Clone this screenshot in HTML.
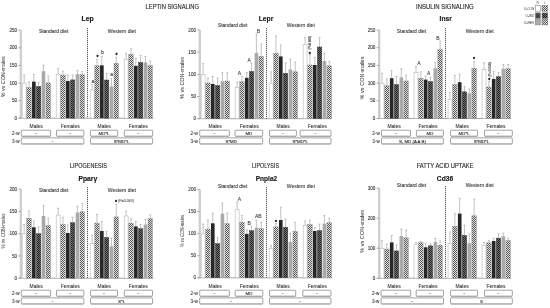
<!DOCTYPE html>
<html><head><meta charset="utf-8"><title>Figure</title>
<style>
html,body{margin:0;padding:0;background:#fff;}
body{width:550px;height:308px;overflow:hidden;}
svg{display:block;}
svg text{font-family:"Liberation Sans", Arial, sans-serif;}
</style></head>
<body>
<svg width="550" height="308" viewBox="0 0 550 308">
<defs>
<pattern id="hA" width="2" height="2" patternUnits="userSpaceOnUse">
<rect width="2" height="2" fill="#e4e4e4"/><rect width="1" height="1" fill="#545454"/><rect x="1" y="1" width="1" height="1" fill="#545454"/></pattern>
<pattern id="hD" width="2" height="2" patternUnits="userSpaceOnUse">
<rect width="2" height="2" fill="#727272"/><rect width="1" height="1" fill="#222222"/><rect x="1" y="1" width="1" height="1" fill="#222222"/></pattern>
<pattern id="hC" width="2" height="2" patternUnits="userSpaceOnUse">
<rect width="2" height="2" fill="#e0e0e0"/><rect width="1" height="1" fill="#585858"/><rect x="1" y="1" width="1" height="1" fill="#585858"/></pattern>
<filter id="soft" x="0" y="0" width="100%" height="100%"><feGaussianBlur stdDeviation="0.3"/></filter>
</defs>
<rect width="550" height="308" fill="#fff"/>
<g filter="url(#soft)">
<line x1="20.85" y1="30.2" x2="20.85" y2="118.2" stroke="#cfcfcf" stroke-width="2.4"/>
<line x1="18.85" y1="118.2" x2="153.25" y2="118.2" stroke="#9a9a9a" stroke-width="0.9"/>
<line x1="18.25" y1="118.2" x2="20.85" y2="118.2" stroke="#999" stroke-width="0.8"/>
<text x="17.05" y="119.8" font-size="4.6" text-anchor="end" fill="#2a2a2a" stroke="#2a2a2a" stroke-width="0.08">0</text>
<line x1="18.25" y1="100.6" x2="20.85" y2="100.6" stroke="#999" stroke-width="0.8"/>
<text x="17.05" y="102.2" font-size="4.6" text-anchor="end" fill="#2a2a2a" stroke="#2a2a2a" stroke-width="0.08">50</text>
<line x1="18.25" y1="83" x2="20.85" y2="83" stroke="#999" stroke-width="0.8"/>
<text x="17.05" y="84.6" font-size="4.6" text-anchor="end" fill="#2a2a2a" stroke="#2a2a2a" stroke-width="0.08">100</text>
<line x1="18.25" y1="65.4" x2="20.85" y2="65.4" stroke="#999" stroke-width="0.8"/>
<text x="17.05" y="67" font-size="4.6" text-anchor="end" fill="#2a2a2a" stroke="#2a2a2a" stroke-width="0.08">150</text>
<line x1="18.25" y1="47.8" x2="20.85" y2="47.8" stroke="#999" stroke-width="0.8"/>
<text x="17.05" y="49.4" font-size="4.6" text-anchor="end" fill="#2a2a2a" stroke="#2a2a2a" stroke-width="0.08">200</text>
<line x1="18.25" y1="30.2" x2="20.85" y2="30.2" stroke="#999" stroke-width="0.8"/>
<text x="17.05" y="31.8" font-size="4.6" text-anchor="end" fill="#2a2a2a" stroke="#2a2a2a" stroke-width="0.08">250</text>
<text x="0" y="0" font-size="4.6" text-anchor="middle" fill="#3a3a3a" stroke="#3a3a3a" stroke-width="0.02" textLength="41" lengthAdjust="spacingAndGlyphs" transform="translate(5.3,76.8) rotate(-90)">% vs CON-males</text>
<line x1="87.5" y1="28" x2="87.5" y2="118.2" stroke="#d4d4d4" stroke-width="0.8"/>
<line x1="87.5" y1="28" x2="87.5" y2="118.2" stroke="#5a5a5a" stroke-width="1" stroke-dasharray="1,1"/>
<text x="87.7" y="20.9" font-size="7.1" text-anchor="middle" font-weight="bold" fill="#1a1a1a" stroke="#1a1a1a" stroke-width="0.15" textLength="12.2" lengthAdjust="spacingAndGlyphs">Lep</text>
<text x="53.65" y="32.9" font-size="4.95" text-anchor="middle" fill="#333" stroke="#333" stroke-width="0.08">Standard diet</text>
<text x="121.85" y="32.9" font-size="5" text-anchor="middle" fill="#333" stroke="#333" stroke-width="0.08">Western diet</text>
<line x1="24.16" y1="75.1" x2="24.16" y2="82.9" stroke="#a8a8a8" stroke-width="0.7"/>
<line x1="23.16" y1="75.1" x2="25.16" y2="75.1" stroke="#a8a8a8" stroke-width="0.7"/>
<rect x="22.2" y="83.1" width="3.92" height="35.1" fill="#fff" stroke="#b5b5b5" stroke-width="0.6"/>
<line x1="28.98" y1="82" x2="28.98" y2="87.5" stroke="#a8a8a8" stroke-width="0.7"/>
<line x1="27.98" y1="82" x2="29.98" y2="82" stroke="#a8a8a8" stroke-width="0.7"/>
<rect x="26.72" y="87.5" width="4.52" height="30.7" fill="url(#hA)" stroke="#8a8a8a" stroke-width="0.4"/>
<line x1="33.8" y1="74.5" x2="33.8" y2="81.6" stroke="#a8a8a8" stroke-width="0.7"/>
<line x1="32.8" y1="74.5" x2="34.8" y2="74.5" stroke="#a8a8a8" stroke-width="0.7"/>
<rect x="32.04" y="81.6" width="3.62" height="36.6" fill="#262626"/>
<line x1="38.62" y1="82.3" x2="38.62" y2="86.4" stroke="#a8a8a8" stroke-width="0.7"/>
<line x1="37.62" y1="82.3" x2="39.62" y2="82.3" stroke="#a8a8a8" stroke-width="0.7"/>
<rect x="36.36" y="86.4" width="4.52" height="31.8" fill="url(#hD)" stroke="#3a3a3a" stroke-width="0.4"/>
<line x1="43.44" y1="65.1" x2="43.44" y2="71.2" stroke="#a8a8a8" stroke-width="0.7"/>
<line x1="42.44" y1="65.1" x2="44.44" y2="65.1" stroke="#a8a8a8" stroke-width="0.7"/>
<rect x="41.68" y="71.2" width="3.62" height="47" fill="#a9a9a9"/>
<line x1="48.26" y1="76" x2="48.26" y2="82.9" stroke="#a8a8a8" stroke-width="0.7"/>
<line x1="47.26" y1="76" x2="49.26" y2="76" stroke="#a8a8a8" stroke-width="0.7"/>
<rect x="46" y="82.9" width="4.52" height="35.3" fill="url(#hC)" stroke="#8a8a8a" stroke-width="0.4"/>
<line x1="58.16" y1="68.6" x2="58.16" y2="74.2" stroke="#a8a8a8" stroke-width="0.7"/>
<line x1="57.16" y1="68.6" x2="59.16" y2="68.6" stroke="#a8a8a8" stroke-width="0.7"/>
<rect x="56.2" y="74.4" width="3.92" height="43.8" fill="#fff" stroke="#b5b5b5" stroke-width="0.6"/>
<line x1="62.98" y1="71.2" x2="62.98" y2="75.1" stroke="#a8a8a8" stroke-width="0.7"/>
<line x1="61.98" y1="71.2" x2="63.98" y2="71.2" stroke="#a8a8a8" stroke-width="0.7"/>
<rect x="60.72" y="75.1" width="4.52" height="43.1" fill="url(#hA)" stroke="#8a8a8a" stroke-width="0.4"/>
<line x1="67.8" y1="75.1" x2="67.8" y2="81" stroke="#a8a8a8" stroke-width="0.7"/>
<line x1="66.8" y1="75.1" x2="68.8" y2="75.1" stroke="#a8a8a8" stroke-width="0.7"/>
<rect x="66.04" y="81" width="3.62" height="37.2" fill="#262626"/>
<line x1="72.62" y1="75.1" x2="72.62" y2="79.9" stroke="#a8a8a8" stroke-width="0.7"/>
<line x1="71.62" y1="75.1" x2="73.62" y2="75.1" stroke="#a8a8a8" stroke-width="0.7"/>
<rect x="70.36" y="79.9" width="4.52" height="38.3" fill="url(#hD)" stroke="#3a3a3a" stroke-width="0.4"/>
<line x1="77.44" y1="70.6" x2="77.44" y2="74.2" stroke="#a8a8a8" stroke-width="0.7"/>
<line x1="76.44" y1="70.6" x2="78.44" y2="70.6" stroke="#a8a8a8" stroke-width="0.7"/>
<rect x="75.68" y="74.2" width="3.62" height="44" fill="#a9a9a9"/>
<line x1="82.26" y1="71.6" x2="82.26" y2="74.7" stroke="#a8a8a8" stroke-width="0.7"/>
<line x1="81.26" y1="71.6" x2="83.26" y2="71.6" stroke="#a8a8a8" stroke-width="0.7"/>
<rect x="80" y="74.7" width="4.52" height="43.5" fill="url(#hC)" stroke="#8a8a8a" stroke-width="0.4"/>
<line x1="92.16" y1="84.8" x2="92.16" y2="89.7" stroke="#a8a8a8" stroke-width="0.7"/>
<line x1="91.16" y1="84.8" x2="93.16" y2="84.8" stroke="#a8a8a8" stroke-width="0.7"/>
<rect x="90.2" y="89.9" width="3.92" height="28.3" fill="#fff" stroke="#b5b5b5" stroke-width="0.6"/>
<line x1="96.98" y1="59.6" x2="96.98" y2="65.8" stroke="#a8a8a8" stroke-width="0.7"/>
<line x1="95.98" y1="59.6" x2="97.98" y2="59.6" stroke="#a8a8a8" stroke-width="0.7"/>
<rect x="94.72" y="65.8" width="4.52" height="52.4" fill="url(#hA)" stroke="#8a8a8a" stroke-width="0.4"/>
<line x1="101.8" y1="56.7" x2="101.8" y2="65.3" stroke="#a8a8a8" stroke-width="0.7"/>
<line x1="100.8" y1="56.7" x2="102.8" y2="56.7" stroke="#a8a8a8" stroke-width="0.7"/>
<rect x="100.04" y="65.3" width="3.62" height="52.9" fill="#262626"/>
<line x1="106.62" y1="73.5" x2="106.62" y2="80" stroke="#a8a8a8" stroke-width="0.7"/>
<line x1="105.62" y1="73.5" x2="107.62" y2="73.5" stroke="#a8a8a8" stroke-width="0.7"/>
<rect x="104.36" y="80" width="4.52" height="38.2" fill="url(#hD)" stroke="#3a3a3a" stroke-width="0.4"/>
<line x1="111.44" y1="78.3" x2="111.44" y2="86.5" stroke="#a8a8a8" stroke-width="0.7"/>
<line x1="110.44" y1="78.3" x2="112.44" y2="78.3" stroke="#a8a8a8" stroke-width="0.7"/>
<rect x="109.68" y="86.5" width="3.62" height="31.7" fill="#a9a9a9"/>
<line x1="116.26" y1="57.2" x2="116.26" y2="63.2" stroke="#a8a8a8" stroke-width="0.7"/>
<line x1="115.26" y1="57.2" x2="117.26" y2="57.2" stroke="#a8a8a8" stroke-width="0.7"/>
<rect x="114" y="63.2" width="4.52" height="55" fill="url(#hC)" stroke="#8a8a8a" stroke-width="0.4"/>
<line x1="126.16" y1="53.3" x2="126.16" y2="59" stroke="#a8a8a8" stroke-width="0.7"/>
<line x1="125.16" y1="53.3" x2="127.16" y2="53.3" stroke="#a8a8a8" stroke-width="0.7"/>
<rect x="124.2" y="59.2" width="3.92" height="59" fill="#fff" stroke="#b5b5b5" stroke-width="0.6"/>
<line x1="130.98" y1="48.7" x2="130.98" y2="54.2" stroke="#a8a8a8" stroke-width="0.7"/>
<line x1="129.98" y1="48.7" x2="131.98" y2="48.7" stroke="#a8a8a8" stroke-width="0.7"/>
<rect x="128.72" y="54.2" width="4.52" height="64" fill="url(#hA)" stroke="#8a8a8a" stroke-width="0.4"/>
<line x1="135.8" y1="58.2" x2="135.8" y2="65.8" stroke="#a8a8a8" stroke-width="0.7"/>
<line x1="134.8" y1="58.2" x2="136.8" y2="58.2" stroke="#a8a8a8" stroke-width="0.7"/>
<rect x="134.04" y="65.8" width="3.62" height="52.4" fill="#262626"/>
<line x1="140.62" y1="55.5" x2="140.62" y2="62.4" stroke="#a8a8a8" stroke-width="0.7"/>
<line x1="139.62" y1="55.5" x2="141.62" y2="55.5" stroke="#a8a8a8" stroke-width="0.7"/>
<rect x="138.36" y="62.4" width="4.52" height="55.8" fill="url(#hD)" stroke="#3a3a3a" stroke-width="0.4"/>
<line x1="145.44" y1="56.4" x2="145.44" y2="62.4" stroke="#a8a8a8" stroke-width="0.7"/>
<line x1="144.44" y1="56.4" x2="146.44" y2="56.4" stroke="#a8a8a8" stroke-width="0.7"/>
<rect x="143.68" y="62.4" width="3.62" height="55.8" fill="#a9a9a9"/>
<line x1="150.26" y1="61" x2="150.26" y2="65.5" stroke="#a8a8a8" stroke-width="0.7"/>
<line x1="149.26" y1="61" x2="151.26" y2="61" stroke="#a8a8a8" stroke-width="0.7"/>
<rect x="148" y="65.5" width="4.52" height="52.7" fill="url(#hC)" stroke="#8a8a8a" stroke-width="0.4"/>
<text x="36.21" y="127.6" font-size="4.95" text-anchor="middle" fill="#333" stroke="#333" stroke-width="0.08">Males</text>
<text x="70.21" y="127.6" font-size="4.95" text-anchor="middle" fill="#333" stroke="#333" stroke-width="0.08">Females</text>
<text x="104.21" y="127.6" font-size="4.95" text-anchor="middle" fill="#333" stroke="#333" stroke-width="0.08">Males</text>
<text x="138.21" y="127.6" font-size="4.95" text-anchor="middle" fill="#333" stroke="#333" stroke-width="0.08">Females</text>
<text x="15.8" y="135.2" font-size="4.6" text-anchor="middle" fill="#333" stroke="#333" stroke-width="0.08">2-w</text>
<text x="15.8" y="142.6" font-size="4.6" text-anchor="middle" fill="#333" stroke="#333" stroke-width="0.08">3-w</text>
<rect x="21.3" y="130.2" width="29.4" height="6.0" rx="0.6" fill="#fff" stroke="#8a8a8a" stroke-width="0.8"/>
<line x1="21.6" y1="136.4" x2="50.4" y2="136.4" stroke="#999" stroke-width="0.6"/>
<text x="36" y="134.8" font-size="5.6" text-anchor="middle" fill="#333" stroke="#333" stroke-width="0.05">-</text>
<rect x="56.5" y="130.2" width="27.3" height="6.0" rx="0.6" fill="#fff" stroke="#8a8a8a" stroke-width="0.8"/>
<line x1="56.8" y1="136.4" x2="83.5" y2="136.4" stroke="#999" stroke-width="0.6"/>
<text x="70.15" y="134.8" font-size="5.6" text-anchor="middle" fill="#333" stroke="#333" stroke-width="0.05">-</text>
<rect x="90.4" y="130.2" width="27.3" height="6.0" rx="0.6" fill="#fff" stroke="#8a8a8a" stroke-width="0.8"/>
<line x1="90.7" y1="136.4" x2="117.4" y2="136.4" stroke="#999" stroke-width="0.6"/>
<text x="104.05" y="134.9" font-size="4.4" text-anchor="middle" fill="#222" stroke="#222" stroke-width="0.1">MD*L</text>
<rect x="124.3" y="130.2" width="28.3" height="6.0" rx="0.6" fill="#fff" stroke="#8a8a8a" stroke-width="0.8"/>
<line x1="124.6" y1="136.4" x2="152.3" y2="136.4" stroke="#999" stroke-width="0.6"/>
<text x="138.45" y="134.8" font-size="5.6" text-anchor="middle" fill="#333" stroke="#333" stroke-width="0.05">-</text>
<rect x="21.3" y="137.9" width="62.5" height="6.0" rx="0.6" fill="#fff" stroke="#8a8a8a" stroke-width="0.8"/>
<line x1="21.6" y1="144.1" x2="83.5" y2="144.1" stroke="#999" stroke-width="0.6"/>
<text x="52.55" y="142.5" font-size="5.6" text-anchor="middle" fill="#333" stroke="#333" stroke-width="0.05">-</text>
<rect x="90.4" y="137.9" width="62.2" height="6.0" rx="0.6" fill="#fff" stroke="#8a8a8a" stroke-width="0.8"/>
<line x1="90.7" y1="144.1" x2="152.3" y2="144.1" stroke="#999" stroke-width="0.6"/>
<text x="121.5" y="142.6" font-size="4.4" text-anchor="middle" fill="#222" stroke="#222" stroke-width="0.1">S*MD*L</text>
<text x="92.9" y="82.9" font-size="5" text-anchor="middle" fill="#333" stroke="#333" stroke-width="0.08">a</text>
<text x="97.4" y="59.4" font-size="5.2" text-anchor="middle" fill="#1a1a1a" stroke="#1a1a1a" stroke-width="0.4">*</text>
<text x="102.3" y="54.1" font-size="5" text-anchor="middle" fill="#333" stroke="#333" stroke-width="0.08">b</text>
<text x="111.6" y="76.1" font-size="5" text-anchor="middle" fill="#333" stroke="#333" stroke-width="0.08">a</text>
<text x="116.5" y="57.1" font-size="5.2" text-anchor="middle" fill="#1a1a1a" stroke="#1a1a1a" stroke-width="0.4">*</text>
<line x1="199.8" y1="30" x2="199.8" y2="118.7" stroke="#cfcfcf" stroke-width="2.4"/>
<line x1="197.8" y1="118.7" x2="332.2" y2="118.7" stroke="#9a9a9a" stroke-width="0.9"/>
<line x1="197.2" y1="118.7" x2="199.8" y2="118.7" stroke="#999" stroke-width="0.8"/>
<text x="196" y="120.3" font-size="4.6" text-anchor="end" fill="#2a2a2a" stroke="#2a2a2a" stroke-width="0.08">0</text>
<line x1="197.2" y1="96.53" x2="199.8" y2="96.53" stroke="#999" stroke-width="0.8"/>
<text x="196" y="98.12" font-size="4.6" text-anchor="end" fill="#2a2a2a" stroke="#2a2a2a" stroke-width="0.08">50</text>
<line x1="197.2" y1="74.35" x2="199.8" y2="74.35" stroke="#999" stroke-width="0.8"/>
<text x="196" y="75.95" font-size="4.6" text-anchor="end" fill="#2a2a2a" stroke="#2a2a2a" stroke-width="0.08">100</text>
<line x1="197.2" y1="52.17" x2="199.8" y2="52.17" stroke="#999" stroke-width="0.8"/>
<text x="196" y="53.77" font-size="4.6" text-anchor="end" fill="#2a2a2a" stroke="#2a2a2a" stroke-width="0.08">150</text>
<line x1="197.2" y1="30" x2="199.8" y2="30" stroke="#999" stroke-width="0.8"/>
<text x="196" y="31.6" font-size="4.6" text-anchor="end" fill="#2a2a2a" stroke="#2a2a2a" stroke-width="0.08">200</text>
<text x="0" y="0" font-size="4.6" text-anchor="middle" fill="#3a3a3a" stroke="#3a3a3a" stroke-width="0.02" textLength="42" lengthAdjust="spacingAndGlyphs" transform="translate(184.4,78) rotate(-90)">% vs CON-males</text>
<line x1="266.5" y1="28" x2="266.5" y2="118.7" stroke="#d4d4d4" stroke-width="0.8"/>
<line x1="266.5" y1="28" x2="266.5" y2="118.7" stroke="#5a5a5a" stroke-width="1" stroke-dasharray="1,1"/>
<text x="266" y="20.9" font-size="7.1" text-anchor="middle" font-weight="bold" fill="#1a1a1a" stroke="#1a1a1a" stroke-width="0.15" textLength="14.6" lengthAdjust="spacingAndGlyphs">Lepr</text>
<text x="232.6" y="26.7" font-size="4.95" text-anchor="middle" fill="#333" stroke="#333" stroke-width="0.08">Standard diet</text>
<text x="300.8" y="26.7" font-size="5" text-anchor="middle" fill="#333" stroke="#333" stroke-width="0.08">Western diet</text>
<line x1="203.11" y1="63.6" x2="203.11" y2="74.5" stroke="#a8a8a8" stroke-width="0.7"/>
<line x1="202.11" y1="63.6" x2="204.11" y2="63.6" stroke="#a8a8a8" stroke-width="0.7"/>
<rect x="201.15" y="74.7" width="3.92" height="44" fill="#fff" stroke="#b5b5b5" stroke-width="0.6"/>
<line x1="207.93" y1="78.2" x2="207.93" y2="83" stroke="#a8a8a8" stroke-width="0.7"/>
<line x1="206.93" y1="78.2" x2="208.93" y2="78.2" stroke="#a8a8a8" stroke-width="0.7"/>
<rect x="205.67" y="83" width="4.52" height="35.7" fill="url(#hA)" stroke="#8a8a8a" stroke-width="0.4"/>
<line x1="212.75" y1="76.4" x2="212.75" y2="84" stroke="#a8a8a8" stroke-width="0.7"/>
<line x1="211.75" y1="76.4" x2="213.75" y2="76.4" stroke="#a8a8a8" stroke-width="0.7"/>
<rect x="210.99" y="84" width="3.62" height="34.7" fill="#262626"/>
<line x1="217.57" y1="78.2" x2="217.57" y2="85.5" stroke="#a8a8a8" stroke-width="0.7"/>
<line x1="216.57" y1="78.2" x2="218.57" y2="78.2" stroke="#a8a8a8" stroke-width="0.7"/>
<rect x="215.31" y="85.5" width="4.52" height="33.2" fill="url(#hD)" stroke="#3a3a3a" stroke-width="0.4"/>
<line x1="222.39" y1="72.7" x2="222.39" y2="81.3" stroke="#a8a8a8" stroke-width="0.7"/>
<line x1="221.39" y1="72.7" x2="223.39" y2="72.7" stroke="#a8a8a8" stroke-width="0.7"/>
<rect x="220.63" y="81.3" width="3.62" height="37.4" fill="#a9a9a9"/>
<line x1="227.21" y1="72.7" x2="227.21" y2="81" stroke="#a8a8a8" stroke-width="0.7"/>
<line x1="226.21" y1="72.7" x2="228.21" y2="72.7" stroke="#a8a8a8" stroke-width="0.7"/>
<rect x="224.95" y="81" width="4.52" height="37.7" fill="url(#hC)" stroke="#8a8a8a" stroke-width="0.4"/>
<line x1="237.11" y1="82.3" x2="237.11" y2="87" stroke="#a8a8a8" stroke-width="0.7"/>
<line x1="236.11" y1="82.3" x2="238.11" y2="82.3" stroke="#a8a8a8" stroke-width="0.7"/>
<rect x="235.15" y="87.2" width="3.92" height="31.5" fill="#fff" stroke="#b5b5b5" stroke-width="0.6"/>
<line x1="241.93" y1="76.4" x2="241.93" y2="81.7" stroke="#a8a8a8" stroke-width="0.7"/>
<line x1="240.93" y1="76.4" x2="242.93" y2="76.4" stroke="#a8a8a8" stroke-width="0.7"/>
<rect x="239.67" y="81.7" width="4.52" height="37" fill="url(#hA)" stroke="#8a8a8a" stroke-width="0.4"/>
<line x1="246.75" y1="72.5" x2="246.75" y2="77.8" stroke="#a8a8a8" stroke-width="0.7"/>
<line x1="245.75" y1="72.5" x2="247.75" y2="72.5" stroke="#a8a8a8" stroke-width="0.7"/>
<rect x="244.99" y="77.8" width="3.62" height="40.9" fill="#262626"/>
<line x1="251.57" y1="63.2" x2="251.57" y2="71.4" stroke="#a8a8a8" stroke-width="0.7"/>
<line x1="250.57" y1="63.2" x2="252.57" y2="63.2" stroke="#a8a8a8" stroke-width="0.7"/>
<rect x="249.31" y="71.4" width="4.52" height="47.3" fill="url(#hD)" stroke="#3a3a3a" stroke-width="0.4"/>
<line x1="256.39" y1="33.9" x2="256.39" y2="53" stroke="#a8a8a8" stroke-width="0.7"/>
<line x1="255.39" y1="33.9" x2="257.39" y2="33.9" stroke="#a8a8a8" stroke-width="0.7"/>
<rect x="254.63" y="53" width="3.62" height="65.7" fill="#a9a9a9"/>
<line x1="261.21" y1="44" x2="261.21" y2="56.3" stroke="#a8a8a8" stroke-width="0.7"/>
<line x1="260.21" y1="44" x2="262.21" y2="44" stroke="#a8a8a8" stroke-width="0.7"/>
<rect x="258.95" y="56.3" width="4.52" height="62.4" fill="url(#hC)" stroke="#8a8a8a" stroke-width="0.4"/>
<line x1="271.11" y1="71.8" x2="271.11" y2="83" stroke="#a8a8a8" stroke-width="0.7"/>
<line x1="270.11" y1="71.8" x2="272.11" y2="71.8" stroke="#a8a8a8" stroke-width="0.7"/>
<rect x="269.15" y="83.2" width="3.92" height="35.5" fill="#fff" stroke="#b5b5b5" stroke-width="0.6"/>
<line x1="275.93" y1="36" x2="275.93" y2="53.3" stroke="#a8a8a8" stroke-width="0.7"/>
<line x1="274.93" y1="36" x2="276.93" y2="36" stroke="#a8a8a8" stroke-width="0.7"/>
<rect x="273.67" y="53.3" width="4.52" height="65.4" fill="url(#hA)" stroke="#8a8a8a" stroke-width="0.4"/>
<line x1="280.75" y1="45" x2="280.75" y2="56.4" stroke="#a8a8a8" stroke-width="0.7"/>
<line x1="279.75" y1="45" x2="281.75" y2="45" stroke="#a8a8a8" stroke-width="0.7"/>
<rect x="278.99" y="56.4" width="3.62" height="62.3" fill="#262626"/>
<line x1="285.57" y1="63" x2="285.57" y2="73.3" stroke="#a8a8a8" stroke-width="0.7"/>
<line x1="284.57" y1="63" x2="286.57" y2="63" stroke="#a8a8a8" stroke-width="0.7"/>
<rect x="283.31" y="73.3" width="4.52" height="45.4" fill="url(#hD)" stroke="#3a3a3a" stroke-width="0.4"/>
<line x1="290.39" y1="59" x2="290.39" y2="69.5" stroke="#a8a8a8" stroke-width="0.7"/>
<line x1="289.39" y1="59" x2="291.39" y2="59" stroke="#a8a8a8" stroke-width="0.7"/>
<rect x="288.63" y="69.5" width="3.62" height="49.2" fill="#a9a9a9"/>
<line x1="295.21" y1="62" x2="295.21" y2="71.8" stroke="#a8a8a8" stroke-width="0.7"/>
<line x1="294.21" y1="62" x2="296.21" y2="62" stroke="#a8a8a8" stroke-width="0.7"/>
<rect x="292.95" y="71.8" width="4.52" height="46.9" fill="url(#hC)" stroke="#8a8a8a" stroke-width="0.4"/>
<line x1="305.11" y1="37.8" x2="305.11" y2="44.2" stroke="#a8a8a8" stroke-width="0.7"/>
<line x1="304.11" y1="37.8" x2="306.11" y2="37.8" stroke="#a8a8a8" stroke-width="0.7"/>
<rect x="303.15" y="44.4" width="3.92" height="74.3" fill="#fff" stroke="#b5b5b5" stroke-width="0.6"/>
<line x1="309.93" y1="54.5" x2="309.93" y2="65" stroke="#a8a8a8" stroke-width="0.7"/>
<line x1="308.93" y1="54.5" x2="310.93" y2="54.5" stroke="#a8a8a8" stroke-width="0.7"/>
<rect x="307.67" y="65" width="4.52" height="53.7" fill="url(#hA)" stroke="#8a8a8a" stroke-width="0.4"/>
<line x1="314.75" y1="57.3" x2="314.75" y2="65" stroke="#a8a8a8" stroke-width="0.7"/>
<line x1="313.75" y1="57.3" x2="315.75" y2="57.3" stroke="#a8a8a8" stroke-width="0.7"/>
<rect x="312.99" y="65" width="3.62" height="53.7" fill="#262626"/>
<line x1="319.57" y1="37.3" x2="319.57" y2="47" stroke="#a8a8a8" stroke-width="0.7"/>
<line x1="318.57" y1="37.3" x2="320.57" y2="37.3" stroke="#a8a8a8" stroke-width="0.7"/>
<rect x="317.31" y="47" width="4.52" height="71.7" fill="url(#hD)" stroke="#3a3a3a" stroke-width="0.4"/>
<line x1="324.39" y1="53.3" x2="324.39" y2="61" stroke="#a8a8a8" stroke-width="0.7"/>
<line x1="323.39" y1="53.3" x2="325.39" y2="53.3" stroke="#a8a8a8" stroke-width="0.7"/>
<rect x="322.63" y="61" width="3.62" height="57.7" fill="#a9a9a9"/>
<line x1="329.21" y1="61.5" x2="329.21" y2="65.8" stroke="#a8a8a8" stroke-width="0.7"/>
<line x1="328.21" y1="61.5" x2="330.21" y2="61.5" stroke="#a8a8a8" stroke-width="0.7"/>
<rect x="326.95" y="65.8" width="4.52" height="52.9" fill="url(#hC)" stroke="#8a8a8a" stroke-width="0.4"/>
<text x="215.16" y="127.6" font-size="4.95" text-anchor="middle" fill="#333" stroke="#333" stroke-width="0.08">Males</text>
<text x="249.16" y="127.6" font-size="4.95" text-anchor="middle" fill="#333" stroke="#333" stroke-width="0.08">Females</text>
<text x="283.16" y="127.6" font-size="4.95" text-anchor="middle" fill="#333" stroke="#333" stroke-width="0.08">Males</text>
<text x="317.16" y="127.6" font-size="4.95" text-anchor="middle" fill="#333" stroke="#333" stroke-width="0.08">Females</text>
<text x="194.2" y="135.2" font-size="4.6" text-anchor="middle" fill="#333" stroke="#333" stroke-width="0.08">2-w</text>
<text x="194.2" y="142.6" font-size="4.6" text-anchor="middle" fill="#333" stroke="#333" stroke-width="0.08">3-w</text>
<rect x="199.7" y="130.2" width="29.6" height="6.0" rx="0.6" fill="#fff" stroke="#8a8a8a" stroke-width="0.8"/>
<line x1="200" y1="136.4" x2="229" y2="136.4" stroke="#999" stroke-width="0.6"/>
<text x="214.5" y="134.8" font-size="5.6" text-anchor="middle" fill="#333" stroke="#333" stroke-width="0.05">-</text>
<rect x="235" y="130.2" width="27.7" height="6.0" rx="0.6" fill="#fff" stroke="#8a8a8a" stroke-width="0.8"/>
<line x1="235.3" y1="136.4" x2="262.4" y2="136.4" stroke="#999" stroke-width="0.6"/>
<text x="248.85" y="134.9" font-size="4.4" text-anchor="middle" fill="#222" stroke="#222" stroke-width="0.1">MD</text>
<rect x="269.5" y="130.2" width="26.9" height="6.0" rx="0.6" fill="#fff" stroke="#8a8a8a" stroke-width="0.8"/>
<line x1="269.8" y1="136.4" x2="296.1" y2="136.4" stroke="#999" stroke-width="0.6"/>
<text x="282.95" y="134.8" font-size="5.6" text-anchor="middle" fill="#333" stroke="#333" stroke-width="0.05">-</text>
<rect x="300.1" y="130.2" width="30.9" height="6.0" rx="0.6" fill="#fff" stroke="#8a8a8a" stroke-width="0.8"/>
<line x1="300.4" y1="136.4" x2="330.7" y2="136.4" stroke="#999" stroke-width="0.6"/>
<text x="315.55" y="134.8" font-size="5.6" text-anchor="middle" fill="#333" stroke="#333" stroke-width="0.05">-</text>
<rect x="199.7" y="137.9" width="63" height="6.0" rx="0.6" fill="#fff" stroke="#8a8a8a" stroke-width="0.8"/>
<line x1="200" y1="144.1" x2="262.4" y2="144.1" stroke="#999" stroke-width="0.6"/>
<text x="231.2" y="142.6" font-size="4.4" text-anchor="middle" fill="#222" stroke="#222" stroke-width="0.1">S*MD</text>
<rect x="269.5" y="137.9" width="61.5" height="6.0" rx="0.6" fill="#fff" stroke="#8a8a8a" stroke-width="0.8"/>
<line x1="269.8" y1="144.1" x2="330.7" y2="144.1" stroke="#999" stroke-width="0.6"/>
<text x="300.25" y="142.6" font-size="4.4" text-anchor="middle" fill="#222" stroke="#222" stroke-width="0.1">S*MD*L</text>
<text x="239.4" y="74.7" font-size="5" text-anchor="middle" fill="#333" stroke="#333" stroke-width="0.08">A</text>
<text x="249.1" y="62" font-size="5" text-anchor="middle" fill="#333" stroke="#333" stroke-width="0.08">A</text>
<text x="258.3" y="32.8" font-size="5" text-anchor="middle" fill="#333" stroke="#333" stroke-width="0.08">B</text>
<text x="309.8" y="55.8" font-size="5.2" text-anchor="middle" fill="#1a1a1a" stroke="#1a1a1a" stroke-width="0.4">*</text>
<text x="0" y="0" font-size="3.9" text-anchor="middle" fill="#3a3a3a" stroke="#3a3a3a" stroke-width="0.12" textLength="13.7" lengthAdjust="spacingAndGlyphs" transform="translate(311.1,42.7) rotate(-90)">(P=0.069)</text>
<line x1="379.2" y1="30" x2="379.2" y2="118.5" stroke="#cfcfcf" stroke-width="2.4"/>
<line x1="377.2" y1="118.5" x2="511.1" y2="118.5" stroke="#9a9a9a" stroke-width="0.9"/>
<line x1="376.6" y1="118.5" x2="379.2" y2="118.5" stroke="#999" stroke-width="0.8"/>
<text x="375.4" y="120.1" font-size="4.6" text-anchor="end" fill="#2a2a2a" stroke="#2a2a2a" stroke-width="0.08">0</text>
<line x1="376.6" y1="100.8" x2="379.2" y2="100.8" stroke="#999" stroke-width="0.8"/>
<text x="375.4" y="102.4" font-size="4.6" text-anchor="end" fill="#2a2a2a" stroke="#2a2a2a" stroke-width="0.08">50</text>
<line x1="376.6" y1="83.1" x2="379.2" y2="83.1" stroke="#999" stroke-width="0.8"/>
<text x="375.4" y="84.7" font-size="4.6" text-anchor="end" fill="#2a2a2a" stroke="#2a2a2a" stroke-width="0.08">100</text>
<line x1="376.6" y1="65.4" x2="379.2" y2="65.4" stroke="#999" stroke-width="0.8"/>
<text x="375.4" y="67" font-size="4.6" text-anchor="end" fill="#2a2a2a" stroke="#2a2a2a" stroke-width="0.08">150</text>
<line x1="376.6" y1="47.7" x2="379.2" y2="47.7" stroke="#999" stroke-width="0.8"/>
<text x="375.4" y="49.3" font-size="4.6" text-anchor="end" fill="#2a2a2a" stroke="#2a2a2a" stroke-width="0.08">200</text>
<line x1="376.6" y1="30" x2="379.2" y2="30" stroke="#999" stroke-width="0.8"/>
<text x="375.4" y="31.6" font-size="4.6" text-anchor="end" fill="#2a2a2a" stroke="#2a2a2a" stroke-width="0.08">250</text>
<text x="0" y="0" font-size="4.6" text-anchor="middle" fill="#3a3a3a" stroke="#3a3a3a" stroke-width="0.02" textLength="43" lengthAdjust="spacingAndGlyphs" transform="translate(364.4,78) rotate(-90)">% vs CON-males</text>
<line x1="445.5" y1="28" x2="445.5" y2="118.5" stroke="#d4d4d4" stroke-width="0.8"/>
<line x1="445.5" y1="28" x2="445.5" y2="118.5" stroke="#5a5a5a" stroke-width="1" stroke-dasharray="1,1"/>
<text x="445.7" y="20.9" font-size="7.1" text-anchor="middle" font-weight="bold" fill="#1a1a1a" stroke="#1a1a1a" stroke-width="0.15" textLength="12.2" lengthAdjust="spacingAndGlyphs">Insr</text>
<text x="411.5" y="32.9" font-size="4.95" text-anchor="middle" fill="#333" stroke="#333" stroke-width="0.08">Standard diet</text>
<text x="479.7" y="32.5" font-size="5" text-anchor="middle" fill="#333" stroke="#333" stroke-width="0.08">Western diet</text>
<line x1="382.01" y1="73.3" x2="382.01" y2="83" stroke="#a8a8a8" stroke-width="0.7"/>
<line x1="381.01" y1="73.3" x2="383.01" y2="73.3" stroke="#a8a8a8" stroke-width="0.7"/>
<rect x="380.05" y="83.2" width="3.92" height="35.3" fill="#fff" stroke="#b5b5b5" stroke-width="0.6"/>
<line x1="386.83" y1="79" x2="386.83" y2="85.8" stroke="#a8a8a8" stroke-width="0.7"/>
<line x1="385.83" y1="79" x2="387.83" y2="79" stroke="#a8a8a8" stroke-width="0.7"/>
<rect x="384.57" y="85.8" width="4.52" height="32.7" fill="url(#hA)" stroke="#8a8a8a" stroke-width="0.4"/>
<line x1="391.65" y1="70.5" x2="391.65" y2="78.2" stroke="#a8a8a8" stroke-width="0.7"/>
<line x1="390.65" y1="70.5" x2="392.65" y2="70.5" stroke="#a8a8a8" stroke-width="0.7"/>
<rect x="389.89" y="78.2" width="3.62" height="40.3" fill="#262626"/>
<line x1="396.47" y1="76.4" x2="396.47" y2="84.5" stroke="#a8a8a8" stroke-width="0.7"/>
<line x1="395.47" y1="76.4" x2="397.47" y2="76.4" stroke="#a8a8a8" stroke-width="0.7"/>
<rect x="394.21" y="84.5" width="4.52" height="34" fill="url(#hD)" stroke="#3a3a3a" stroke-width="0.4"/>
<line x1="401.29" y1="68.7" x2="401.29" y2="77.3" stroke="#a8a8a8" stroke-width="0.7"/>
<line x1="400.29" y1="68.7" x2="402.29" y2="68.7" stroke="#a8a8a8" stroke-width="0.7"/>
<rect x="399.53" y="77.3" width="3.62" height="41.2" fill="#a9a9a9"/>
<line x1="406.11" y1="75" x2="406.11" y2="81" stroke="#a8a8a8" stroke-width="0.7"/>
<line x1="405.11" y1="75" x2="407.11" y2="75" stroke="#a8a8a8" stroke-width="0.7"/>
<rect x="403.85" y="81" width="4.52" height="37.5" fill="url(#hC)" stroke="#8a8a8a" stroke-width="0.4"/>
<line x1="416.01" y1="66.4" x2="416.01" y2="72.4" stroke="#a8a8a8" stroke-width="0.7"/>
<line x1="415.01" y1="66.4" x2="417.01" y2="66.4" stroke="#a8a8a8" stroke-width="0.7"/>
<rect x="414.05" y="72.6" width="3.92" height="45.9" fill="#fff" stroke="#b5b5b5" stroke-width="0.6"/>
<line x1="420.83" y1="71.8" x2="420.83" y2="78.2" stroke="#a8a8a8" stroke-width="0.7"/>
<line x1="419.83" y1="71.8" x2="421.83" y2="71.8" stroke="#a8a8a8" stroke-width="0.7"/>
<rect x="418.57" y="78.2" width="4.52" height="40.3" fill="url(#hA)" stroke="#8a8a8a" stroke-width="0.4"/>
<line x1="425.65" y1="76" x2="425.65" y2="79.6" stroke="#a8a8a8" stroke-width="0.7"/>
<line x1="424.65" y1="76" x2="426.65" y2="76" stroke="#a8a8a8" stroke-width="0.7"/>
<rect x="423.89" y="79.6" width="3.62" height="38.9" fill="#262626"/>
<line x1="430.47" y1="77.3" x2="430.47" y2="81.5" stroke="#a8a8a8" stroke-width="0.7"/>
<line x1="429.47" y1="77.3" x2="431.47" y2="77.3" stroke="#a8a8a8" stroke-width="0.7"/>
<rect x="428.21" y="81.5" width="4.52" height="37" fill="url(#hD)" stroke="#3a3a3a" stroke-width="0.4"/>
<line x1="435.29" y1="62.4" x2="435.29" y2="68.2" stroke="#a8a8a8" stroke-width="0.7"/>
<line x1="434.29" y1="62.4" x2="436.29" y2="62.4" stroke="#a8a8a8" stroke-width="0.7"/>
<rect x="433.53" y="68.2" width="3.62" height="50.3" fill="#a9a9a9"/>
<line x1="440.11" y1="41" x2="440.11" y2="49.5" stroke="#a8a8a8" stroke-width="0.7"/>
<line x1="439.11" y1="41" x2="441.11" y2="41" stroke="#a8a8a8" stroke-width="0.7"/>
<rect x="437.85" y="49.5" width="4.52" height="69" fill="url(#hC)" stroke="#8a8a8a" stroke-width="0.4"/>
<line x1="450.01" y1="92.4" x2="450.01" y2="99" stroke="#a8a8a8" stroke-width="0.7"/>
<line x1="449.01" y1="92.4" x2="451.01" y2="92.4" stroke="#a8a8a8" stroke-width="0.7"/>
<rect x="448.05" y="99.2" width="3.92" height="19.3" fill="#fff" stroke="#b5b5b5" stroke-width="0.6"/>
<line x1="454.83" y1="75.5" x2="454.83" y2="84.5" stroke="#a8a8a8" stroke-width="0.7"/>
<line x1="453.83" y1="75.5" x2="455.83" y2="75.5" stroke="#a8a8a8" stroke-width="0.7"/>
<rect x="452.57" y="84.5" width="4.52" height="34" fill="url(#hA)" stroke="#8a8a8a" stroke-width="0.4"/>
<line x1="459.65" y1="74.2" x2="459.65" y2="82.2" stroke="#a8a8a8" stroke-width="0.7"/>
<line x1="458.65" y1="74.2" x2="460.65" y2="74.2" stroke="#a8a8a8" stroke-width="0.7"/>
<rect x="457.89" y="82.2" width="3.62" height="36.3" fill="#262626"/>
<line x1="464.47" y1="86.4" x2="464.47" y2="91.8" stroke="#a8a8a8" stroke-width="0.7"/>
<line x1="463.47" y1="86.4" x2="465.47" y2="86.4" stroke="#a8a8a8" stroke-width="0.7"/>
<rect x="462.21" y="91.8" width="4.52" height="26.7" fill="url(#hD)" stroke="#3a3a3a" stroke-width="0.4"/>
<line x1="469.29" y1="89" x2="469.29" y2="93.3" stroke="#a8a8a8" stroke-width="0.7"/>
<line x1="468.29" y1="89" x2="470.29" y2="89" stroke="#a8a8a8" stroke-width="0.7"/>
<rect x="467.53" y="93.3" width="3.62" height="25.2" fill="#a9a9a9"/>
<line x1="474.11" y1="61.5" x2="474.11" y2="68.2" stroke="#a8a8a8" stroke-width="0.7"/>
<line x1="473.11" y1="61.5" x2="475.11" y2="61.5" stroke="#a8a8a8" stroke-width="0.7"/>
<rect x="471.85" y="68.2" width="4.52" height="50.3" fill="url(#hC)" stroke="#8a8a8a" stroke-width="0.4"/>
<line x1="484.01" y1="62.7" x2="484.01" y2="69.5" stroke="#a8a8a8" stroke-width="0.7"/>
<line x1="483.01" y1="62.7" x2="485.01" y2="62.7" stroke="#a8a8a8" stroke-width="0.7"/>
<rect x="482.05" y="69.7" width="3.92" height="48.8" fill="#fff" stroke="#b5b5b5" stroke-width="0.6"/>
<line x1="488.83" y1="81.5" x2="488.83" y2="87" stroke="#a8a8a8" stroke-width="0.7"/>
<line x1="487.83" y1="81.5" x2="489.83" y2="81.5" stroke="#a8a8a8" stroke-width="0.7"/>
<rect x="486.57" y="87" width="4.52" height="31.5" fill="url(#hA)" stroke="#8a8a8a" stroke-width="0.4"/>
<line x1="493.65" y1="71.3" x2="493.65" y2="79" stroke="#a8a8a8" stroke-width="0.7"/>
<line x1="492.65" y1="71.3" x2="494.65" y2="71.3" stroke="#a8a8a8" stroke-width="0.7"/>
<rect x="491.89" y="79" width="3.62" height="39.5" fill="#262626"/>
<line x1="498.47" y1="72.4" x2="498.47" y2="76.7" stroke="#a8a8a8" stroke-width="0.7"/>
<line x1="497.47" y1="72.4" x2="499.47" y2="72.4" stroke="#a8a8a8" stroke-width="0.7"/>
<rect x="496.21" y="76.7" width="4.52" height="41.8" fill="url(#hD)" stroke="#3a3a3a" stroke-width="0.4"/>
<line x1="503.29" y1="64.5" x2="503.29" y2="68.7" stroke="#a8a8a8" stroke-width="0.7"/>
<line x1="502.29" y1="64.5" x2="504.29" y2="64.5" stroke="#a8a8a8" stroke-width="0.7"/>
<rect x="501.53" y="68.7" width="3.62" height="49.8" fill="#a9a9a9"/>
<line x1="508.11" y1="64.5" x2="508.11" y2="68.7" stroke="#a8a8a8" stroke-width="0.7"/>
<line x1="507.11" y1="64.5" x2="509.11" y2="64.5" stroke="#a8a8a8" stroke-width="0.7"/>
<rect x="505.85" y="68.7" width="4.52" height="49.8" fill="url(#hC)" stroke="#8a8a8a" stroke-width="0.4"/>
<text x="394.06" y="127.6" font-size="4.95" text-anchor="middle" fill="#333" stroke="#333" stroke-width="0.08">Males</text>
<text x="428.06" y="127.6" font-size="4.95" text-anchor="middle" fill="#333" stroke="#333" stroke-width="0.08">Females</text>
<text x="462.06" y="127.6" font-size="4.95" text-anchor="middle" fill="#333" stroke="#333" stroke-width="0.08">Males</text>
<text x="496.06" y="127.6" font-size="4.95" text-anchor="middle" fill="#333" stroke="#333" stroke-width="0.08">Females</text>
<text x="376" y="135.2" font-size="4.6" text-anchor="middle" fill="#333" stroke="#333" stroke-width="0.08">2-w</text>
<text x="376" y="142.6" font-size="4.6" text-anchor="middle" fill="#333" stroke="#333" stroke-width="0.08">3-w</text>
<rect x="381.5" y="130.2" width="29" height="6.0" rx="0.6" fill="#fff" stroke="#8a8a8a" stroke-width="0.8"/>
<line x1="381.8" y1="136.4" x2="410.2" y2="136.4" stroke="#999" stroke-width="0.6"/>
<text x="396" y="134.8" font-size="5.6" text-anchor="middle" fill="#333" stroke="#333" stroke-width="0.05">-</text>
<rect x="416.4" y="130.2" width="27" height="6.0" rx="0.6" fill="#fff" stroke="#8a8a8a" stroke-width="0.8"/>
<line x1="416.7" y1="136.4" x2="443.1" y2="136.4" stroke="#999" stroke-width="0.6"/>
<text x="429.9" y="134.9" font-size="4.4" text-anchor="middle" fill="#222" stroke="#222" stroke-width="0.1">MD</text>
<rect x="450.6" y="130.2" width="27" height="6.0" rx="0.6" fill="#fff" stroke="#8a8a8a" stroke-width="0.8"/>
<line x1="450.9" y1="136.4" x2="477.3" y2="136.4" stroke="#999" stroke-width="0.6"/>
<text x="464.1" y="134.9" font-size="4.4" text-anchor="middle" fill="#222" stroke="#222" stroke-width="0.1">MD*L</text>
<rect x="484.5" y="130.2" width="27.8" height="6.0" rx="0.6" fill="#fff" stroke="#8a8a8a" stroke-width="0.8"/>
<line x1="484.8" y1="136.4" x2="512" y2="136.4" stroke="#999" stroke-width="0.6"/>
<text x="498.4" y="134.8" font-size="5.6" text-anchor="middle" fill="#333" stroke="#333" stroke-width="0.05">-</text>
<rect x="381.5" y="137.9" width="61.9" height="6.0" rx="0.6" fill="#fff" stroke="#8a8a8a" stroke-width="0.8"/>
<line x1="381.8" y1="144.1" x2="443.1" y2="144.1" stroke="#999" stroke-width="0.6"/>
<text x="412.45" y="142.6" font-size="4.4" text-anchor="middle" fill="#222" stroke="#222" stroke-width="0.1">S, MD (A A B)</text>
<rect x="450.6" y="137.9" width="61.7" height="6.0" rx="0.6" fill="#fff" stroke="#8a8a8a" stroke-width="0.8"/>
<line x1="450.9" y1="144.1" x2="512" y2="144.1" stroke="#999" stroke-width="0.6"/>
<text x="481.45" y="142.6" font-size="4.4" text-anchor="middle" fill="#222" stroke="#222" stroke-width="0.1">S*MD*L</text>
<text x="419" y="65.1" font-size="5" text-anchor="middle" fill="#333" stroke="#333" stroke-width="0.08">A</text>
<text x="428.7" y="74.5" font-size="5" text-anchor="middle" fill="#333" stroke="#333" stroke-width="0.08">A</text>
<text x="437.8" y="40" font-size="5" text-anchor="middle" fill="#333" stroke="#333" stroke-width="0.08">B</text>
<text x="474.1" y="60.5" font-size="5.2" text-anchor="middle" fill="#1a1a1a" stroke="#1a1a1a" stroke-width="0.4">*</text>
<text x="489.2" y="81.7" font-size="5.2" text-anchor="middle" fill="#1a1a1a" stroke="#1a1a1a" stroke-width="0.4">*</text>
<text x="0" y="0" font-size="3.9" text-anchor="middle" fill="#3a3a3a" stroke="#3a3a3a" stroke-width="0.12" textLength="14.4" lengthAdjust="spacingAndGlyphs" transform="translate(490.8,69.3) rotate(-90)">(P=0.056)</text>
<line x1="20.85" y1="189.1" x2="20.85" y2="278.2" stroke="#cfcfcf" stroke-width="2.4"/>
<line x1="18.85" y1="278.2" x2="153.25" y2="278.2" stroke="#9a9a9a" stroke-width="0.9"/>
<line x1="18.25" y1="278.2" x2="20.85" y2="278.2" stroke="#999" stroke-width="0.8"/>
<text x="17.05" y="279.8" font-size="4.6" text-anchor="end" fill="#2a2a2a" stroke="#2a2a2a" stroke-width="0.08">0</text>
<line x1="18.25" y1="255.92" x2="20.85" y2="255.92" stroke="#999" stroke-width="0.8"/>
<text x="17.05" y="257.52" font-size="4.6" text-anchor="end" fill="#2a2a2a" stroke="#2a2a2a" stroke-width="0.08">50</text>
<line x1="18.25" y1="233.65" x2="20.85" y2="233.65" stroke="#999" stroke-width="0.8"/>
<text x="17.05" y="235.25" font-size="4.6" text-anchor="end" fill="#2a2a2a" stroke="#2a2a2a" stroke-width="0.08">100</text>
<line x1="18.25" y1="211.38" x2="20.85" y2="211.38" stroke="#999" stroke-width="0.8"/>
<text x="17.05" y="212.97" font-size="4.6" text-anchor="end" fill="#2a2a2a" stroke="#2a2a2a" stroke-width="0.08">150</text>
<line x1="18.25" y1="189.1" x2="20.85" y2="189.1" stroke="#999" stroke-width="0.8"/>
<text x="17.05" y="190.7" font-size="4.6" text-anchor="end" fill="#2a2a2a" stroke="#2a2a2a" stroke-width="0.08">200</text>
<text x="0" y="0" font-size="4.6" text-anchor="middle" fill="#3a3a3a" stroke="#3a3a3a" stroke-width="0.02" textLength="35" lengthAdjust="spacingAndGlyphs" transform="translate(5.3,231) rotate(-90)">% vs CON-males</text>
<line x1="87.5" y1="187" x2="87.5" y2="278.2" stroke="#d4d4d4" stroke-width="0.8"/>
<line x1="87.5" y1="187" x2="87.5" y2="278.2" stroke="#5a5a5a" stroke-width="1" stroke-dasharray="1,1"/>
<text x="87.85" y="180.9" font-size="7.1" text-anchor="middle" font-weight="bold" fill="#1a1a1a" stroke="#1a1a1a" stroke-width="0.15" textLength="18.9" lengthAdjust="spacingAndGlyphs">Pparγ</text>
<text x="53.65" y="192" font-size="4.95" text-anchor="middle" fill="#333" stroke="#333" stroke-width="0.08">Standard diet</text>
<text x="121.85" y="191.6" font-size="5" text-anchor="middle" fill="#333" stroke="#333" stroke-width="0.08">Western diet</text>
<line x1="24.16" y1="224.5" x2="24.16" y2="233.6" stroke="#a8a8a8" stroke-width="0.7"/>
<line x1="23.16" y1="224.5" x2="25.16" y2="224.5" stroke="#a8a8a8" stroke-width="0.7"/>
<rect x="22.2" y="233.8" width="3.92" height="44.4" fill="#fff" stroke="#b5b5b5" stroke-width="0.6"/>
<line x1="28.98" y1="211" x2="28.98" y2="218.2" stroke="#a8a8a8" stroke-width="0.7"/>
<line x1="27.98" y1="211" x2="29.98" y2="211" stroke="#a8a8a8" stroke-width="0.7"/>
<rect x="26.72" y="218.2" width="4.52" height="60" fill="url(#hA)" stroke="#8a8a8a" stroke-width="0.4"/>
<line x1="33.8" y1="221" x2="33.8" y2="227.3" stroke="#a8a8a8" stroke-width="0.7"/>
<line x1="32.8" y1="221" x2="34.8" y2="221" stroke="#a8a8a8" stroke-width="0.7"/>
<rect x="32.04" y="227.3" width="3.62" height="50.9" fill="#262626"/>
<line x1="38.62" y1="227" x2="38.62" y2="233.6" stroke="#a8a8a8" stroke-width="0.7"/>
<line x1="37.62" y1="227" x2="39.62" y2="227" stroke="#a8a8a8" stroke-width="0.7"/>
<rect x="36.36" y="233.6" width="4.52" height="44.6" fill="url(#hD)" stroke="#3a3a3a" stroke-width="0.4"/>
<line x1="43.44" y1="205.5" x2="43.44" y2="216" stroke="#a8a8a8" stroke-width="0.7"/>
<line x1="42.44" y1="205.5" x2="44.44" y2="205.5" stroke="#a8a8a8" stroke-width="0.7"/>
<rect x="41.68" y="216" width="3.62" height="62.2" fill="#a9a9a9"/>
<line x1="48.26" y1="218.2" x2="48.26" y2="225.5" stroke="#a8a8a8" stroke-width="0.7"/>
<line x1="47.26" y1="218.2" x2="49.26" y2="218.2" stroke="#a8a8a8" stroke-width="0.7"/>
<rect x="46" y="225.5" width="4.52" height="52.7" fill="url(#hC)" stroke="#8a8a8a" stroke-width="0.4"/>
<line x1="58.16" y1="208.2" x2="58.16" y2="214.9" stroke="#a8a8a8" stroke-width="0.7"/>
<line x1="57.16" y1="208.2" x2="59.16" y2="208.2" stroke="#a8a8a8" stroke-width="0.7"/>
<rect x="56.2" y="215.1" width="3.92" height="63.1" fill="#fff" stroke="#b5b5b5" stroke-width="0.6"/>
<line x1="62.98" y1="217.3" x2="62.98" y2="224.5" stroke="#a8a8a8" stroke-width="0.7"/>
<line x1="61.98" y1="217.3" x2="63.98" y2="217.3" stroke="#a8a8a8" stroke-width="0.7"/>
<rect x="60.72" y="224.5" width="4.52" height="53.7" fill="url(#hA)" stroke="#8a8a8a" stroke-width="0.4"/>
<line x1="67.8" y1="225" x2="67.8" y2="233" stroke="#a8a8a8" stroke-width="0.7"/>
<line x1="66.8" y1="225" x2="68.8" y2="225" stroke="#a8a8a8" stroke-width="0.7"/>
<rect x="66.04" y="233" width="3.62" height="45.2" fill="#262626"/>
<line x1="72.62" y1="217.3" x2="72.62" y2="222.7" stroke="#a8a8a8" stroke-width="0.7"/>
<line x1="71.62" y1="217.3" x2="73.62" y2="217.3" stroke="#a8a8a8" stroke-width="0.7"/>
<rect x="70.36" y="222.7" width="4.52" height="55.5" fill="url(#hD)" stroke="#3a3a3a" stroke-width="0.4"/>
<line x1="77.44" y1="206.4" x2="77.44" y2="212.4" stroke="#a8a8a8" stroke-width="0.7"/>
<line x1="76.44" y1="206.4" x2="78.44" y2="206.4" stroke="#a8a8a8" stroke-width="0.7"/>
<rect x="75.68" y="212.4" width="3.62" height="65.8" fill="#a9a9a9"/>
<line x1="82.26" y1="203.6" x2="82.26" y2="211.8" stroke="#a8a8a8" stroke-width="0.7"/>
<line x1="81.26" y1="203.6" x2="83.26" y2="203.6" stroke="#a8a8a8" stroke-width="0.7"/>
<rect x="80" y="211.8" width="4.52" height="66.4" fill="url(#hC)" stroke="#8a8a8a" stroke-width="0.4"/>
<line x1="92.16" y1="235.5" x2="92.16" y2="243.2" stroke="#a8a8a8" stroke-width="0.7"/>
<line x1="91.16" y1="235.5" x2="93.16" y2="235.5" stroke="#a8a8a8" stroke-width="0.7"/>
<rect x="90.2" y="243.4" width="3.92" height="34.8" fill="#fff" stroke="#b5b5b5" stroke-width="0.6"/>
<line x1="96.98" y1="214.5" x2="96.98" y2="223.1" stroke="#a8a8a8" stroke-width="0.7"/>
<line x1="95.98" y1="214.5" x2="97.98" y2="214.5" stroke="#a8a8a8" stroke-width="0.7"/>
<rect x="94.72" y="223.1" width="4.52" height="55.1" fill="url(#hA)" stroke="#8a8a8a" stroke-width="0.4"/>
<line x1="101.8" y1="221.5" x2="101.8" y2="231" stroke="#a8a8a8" stroke-width="0.7"/>
<line x1="100.8" y1="221.5" x2="102.8" y2="221.5" stroke="#a8a8a8" stroke-width="0.7"/>
<rect x="100.04" y="231" width="3.62" height="47.2" fill="#262626"/>
<line x1="106.62" y1="231.4" x2="106.62" y2="237.4" stroke="#a8a8a8" stroke-width="0.7"/>
<line x1="105.62" y1="231.4" x2="107.62" y2="231.4" stroke="#a8a8a8" stroke-width="0.7"/>
<rect x="104.36" y="237.4" width="4.52" height="40.8" fill="url(#hD)" stroke="#3a3a3a" stroke-width="0.4"/>
<line x1="111.44" y1="238" x2="111.44" y2="246.3" stroke="#a8a8a8" stroke-width="0.7"/>
<line x1="110.44" y1="238" x2="112.44" y2="238" stroke="#a8a8a8" stroke-width="0.7"/>
<rect x="109.68" y="246.3" width="3.62" height="31.9" fill="#a9a9a9"/>
<line x1="116.26" y1="204.2" x2="116.26" y2="216.9" stroke="#a8a8a8" stroke-width="0.7"/>
<line x1="115.26" y1="204.2" x2="117.26" y2="204.2" stroke="#a8a8a8" stroke-width="0.7"/>
<rect x="114" y="216.9" width="4.52" height="61.3" fill="url(#hC)" stroke="#8a8a8a" stroke-width="0.4"/>
<line x1="126.16" y1="211" x2="126.16" y2="215.8" stroke="#a8a8a8" stroke-width="0.7"/>
<line x1="125.16" y1="211" x2="127.16" y2="211" stroke="#a8a8a8" stroke-width="0.7"/>
<rect x="124.2" y="216" width="3.92" height="62.2" fill="#fff" stroke="#b5b5b5" stroke-width="0.6"/>
<line x1="130.98" y1="218.7" x2="130.98" y2="223.1" stroke="#a8a8a8" stroke-width="0.7"/>
<line x1="129.98" y1="218.7" x2="131.98" y2="218.7" stroke="#a8a8a8" stroke-width="0.7"/>
<rect x="128.72" y="223.1" width="4.52" height="55.1" fill="url(#hA)" stroke="#8a8a8a" stroke-width="0.4"/>
<line x1="135.8" y1="221.5" x2="135.8" y2="226.4" stroke="#a8a8a8" stroke-width="0.7"/>
<line x1="134.8" y1="221.5" x2="136.8" y2="221.5" stroke="#a8a8a8" stroke-width="0.7"/>
<rect x="134.04" y="226.4" width="3.62" height="51.8" fill="#262626"/>
<line x1="140.62" y1="224.5" x2="140.62" y2="228.7" stroke="#a8a8a8" stroke-width="0.7"/>
<line x1="139.62" y1="224.5" x2="141.62" y2="224.5" stroke="#a8a8a8" stroke-width="0.7"/>
<rect x="138.36" y="228.7" width="4.52" height="49.5" fill="url(#hD)" stroke="#3a3a3a" stroke-width="0.4"/>
<line x1="145.44" y1="219.6" x2="145.44" y2="224.5" stroke="#a8a8a8" stroke-width="0.7"/>
<line x1="144.44" y1="219.6" x2="146.44" y2="219.6" stroke="#a8a8a8" stroke-width="0.7"/>
<rect x="143.68" y="224.5" width="3.62" height="53.7" fill="#a9a9a9"/>
<line x1="150.26" y1="215" x2="150.26" y2="218.7" stroke="#a8a8a8" stroke-width="0.7"/>
<line x1="149.26" y1="215" x2="151.26" y2="215" stroke="#a8a8a8" stroke-width="0.7"/>
<rect x="148" y="218.7" width="4.52" height="59.5" fill="url(#hC)" stroke="#8a8a8a" stroke-width="0.4"/>
<text x="36.21" y="287.6" font-size="4.95" text-anchor="middle" fill="#333" stroke="#333" stroke-width="0.08">Males</text>
<text x="70.21" y="287.6" font-size="4.95" text-anchor="middle" fill="#333" stroke="#333" stroke-width="0.08">Females</text>
<text x="104.21" y="287.6" font-size="4.95" text-anchor="middle" fill="#333" stroke="#333" stroke-width="0.08">Males</text>
<text x="138.21" y="287.6" font-size="4.95" text-anchor="middle" fill="#333" stroke="#333" stroke-width="0.08">Females</text>
<text x="15.8" y="295.2" font-size="4.6" text-anchor="middle" fill="#333" stroke="#333" stroke-width="0.08">2-w</text>
<text x="15.8" y="302.6" font-size="4.6" text-anchor="middle" fill="#333" stroke="#333" stroke-width="0.08">3-w</text>
<rect x="21.3" y="290.2" width="29.4" height="6.0" rx="0.6" fill="#fff" stroke="#8a8a8a" stroke-width="0.8"/>
<line x1="21.6" y1="296.4" x2="50.4" y2="296.4" stroke="#999" stroke-width="0.6"/>
<text x="36" y="294.8" font-size="5.6" text-anchor="middle" fill="#333" stroke="#333" stroke-width="0.05">-</text>
<rect x="56.5" y="290.2" width="27.3" height="6.0" rx="0.6" fill="#fff" stroke="#8a8a8a" stroke-width="0.8"/>
<line x1="56.8" y1="296.4" x2="83.5" y2="296.4" stroke="#999" stroke-width="0.6"/>
<text x="70.15" y="294.8" font-size="5.6" text-anchor="middle" fill="#333" stroke="#333" stroke-width="0.05">-</text>
<rect x="90.6" y="290.2" width="26.9" height="6.0" rx="0.6" fill="#fff" stroke="#8a8a8a" stroke-width="0.8"/>
<line x1="90.9" y1="296.4" x2="117.2" y2="296.4" stroke="#999" stroke-width="0.6"/>
<text x="104.05" y="294.8" font-size="5.6" text-anchor="middle" fill="#333" stroke="#333" stroke-width="0.05">-</text>
<rect x="124.3" y="290.2" width="28.2" height="6.0" rx="0.6" fill="#fff" stroke="#8a8a8a" stroke-width="0.8"/>
<line x1="124.6" y1="296.4" x2="152.2" y2="296.4" stroke="#999" stroke-width="0.6"/>
<text x="138.4" y="294.8" font-size="5.6" text-anchor="middle" fill="#333" stroke="#333" stroke-width="0.05">-</text>
<rect x="21.3" y="297.9" width="62.5" height="6.0" rx="0.6" fill="#fff" stroke="#8a8a8a" stroke-width="0.8"/>
<line x1="21.6" y1="304.1" x2="83.5" y2="304.1" stroke="#999" stroke-width="0.6"/>
<text x="52.55" y="302.5" font-size="5.6" text-anchor="middle" fill="#333" stroke="#333" stroke-width="0.05">-</text>
<rect x="90.6" y="297.9" width="61.9" height="6.0" rx="0.6" fill="#fff" stroke="#8a8a8a" stroke-width="0.8"/>
<line x1="90.9" y1="304.1" x2="152.2" y2="304.1" stroke="#999" stroke-width="0.6"/>
<text x="121.55" y="302.6" font-size="4.4" text-anchor="middle" fill="#222" stroke="#222" stroke-width="0.1">S*L</text>
<text x="115.9" y="203.6" font-size="5.2" text-anchor="middle" fill="#1a1a1a" stroke="#1a1a1a" stroke-width="0.4">*</text>
<text x="118" y="202.2" font-size="3.6" text-anchor="start" fill="#555" stroke="#555" stroke-width="0.08">(P=0.063)</text>
<line x1="199.8" y1="189.4" x2="199.8" y2="277.8" stroke="#cfcfcf" stroke-width="2.4"/>
<line x1="197.8" y1="277.8" x2="332.2" y2="277.8" stroke="#9a9a9a" stroke-width="0.9"/>
<line x1="197.2" y1="277.8" x2="199.8" y2="277.8" stroke="#999" stroke-width="0.8"/>
<text x="196" y="279.4" font-size="4.6" text-anchor="end" fill="#2a2a2a" stroke="#2a2a2a" stroke-width="0.08">0</text>
<line x1="197.2" y1="255.7" x2="199.8" y2="255.7" stroke="#999" stroke-width="0.8"/>
<text x="196" y="257.3" font-size="4.6" text-anchor="end" fill="#2a2a2a" stroke="#2a2a2a" stroke-width="0.08">50</text>
<line x1="197.2" y1="233.6" x2="199.8" y2="233.6" stroke="#999" stroke-width="0.8"/>
<text x="196" y="235.2" font-size="4.6" text-anchor="end" fill="#2a2a2a" stroke="#2a2a2a" stroke-width="0.08">100</text>
<line x1="197.2" y1="211.5" x2="199.8" y2="211.5" stroke="#999" stroke-width="0.8"/>
<text x="196" y="213.1" font-size="4.6" text-anchor="end" fill="#2a2a2a" stroke="#2a2a2a" stroke-width="0.08">150</text>
<line x1="197.2" y1="189.4" x2="199.8" y2="189.4" stroke="#999" stroke-width="0.8"/>
<text x="196" y="191" font-size="4.6" text-anchor="end" fill="#2a2a2a" stroke="#2a2a2a" stroke-width="0.08">200</text>
<text x="0" y="0" font-size="4.6" text-anchor="middle" fill="#3a3a3a" stroke="#3a3a3a" stroke-width="0.02" textLength="32" lengthAdjust="spacingAndGlyphs" transform="translate(184.3,231) rotate(-90)">% vs CON-males</text>
<line x1="266.5" y1="187" x2="266.5" y2="277.8" stroke="#d4d4d4" stroke-width="0.8"/>
<line x1="266.5" y1="187" x2="266.5" y2="277.8" stroke="#5a5a5a" stroke-width="1" stroke-dasharray="1,1"/>
<text x="266.45" y="180.9" font-size="7.1" text-anchor="middle" font-weight="bold" fill="#1a1a1a" stroke="#1a1a1a" stroke-width="0.15" textLength="21.5" lengthAdjust="spacingAndGlyphs">Pnpla2</text>
<text x="232.6" y="187.6" font-size="4.95" text-anchor="middle" fill="#333" stroke="#333" stroke-width="0.08">Standard diet</text>
<text x="300.8" y="188" font-size="5" text-anchor="middle" fill="#333" stroke="#333" stroke-width="0.08">Western diet</text>
<line x1="203.11" y1="224.2" x2="203.11" y2="233.6" stroke="#a8a8a8" stroke-width="0.7"/>
<line x1="202.11" y1="224.2" x2="204.11" y2="224.2" stroke="#a8a8a8" stroke-width="0.7"/>
<rect x="201.15" y="233.8" width="3.92" height="44" fill="#fff" stroke="#b5b5b5" stroke-width="0.6"/>
<line x1="207.93" y1="220" x2="207.93" y2="229.1" stroke="#a8a8a8" stroke-width="0.7"/>
<line x1="206.93" y1="220" x2="208.93" y2="220" stroke="#a8a8a8" stroke-width="0.7"/>
<rect x="205.67" y="229.1" width="4.52" height="48.7" fill="url(#hA)" stroke="#8a8a8a" stroke-width="0.4"/>
<line x1="212.75" y1="213.3" x2="212.75" y2="223.3" stroke="#a8a8a8" stroke-width="0.7"/>
<line x1="211.75" y1="213.3" x2="213.75" y2="213.3" stroke="#a8a8a8" stroke-width="0.7"/>
<rect x="210.99" y="223.3" width="3.62" height="54.5" fill="#262626"/>
<line x1="217.57" y1="237.6" x2="217.57" y2="243.6" stroke="#a8a8a8" stroke-width="0.7"/>
<line x1="216.57" y1="237.6" x2="218.57" y2="237.6" stroke="#a8a8a8" stroke-width="0.7"/>
<rect x="215.31" y="243.6" width="4.52" height="34.2" fill="url(#hD)" stroke="#3a3a3a" stroke-width="0.4"/>
<line x1="222.39" y1="203" x2="222.39" y2="213.6" stroke="#a8a8a8" stroke-width="0.7"/>
<line x1="221.39" y1="203" x2="223.39" y2="203" stroke="#a8a8a8" stroke-width="0.7"/>
<rect x="220.63" y="213.6" width="3.62" height="64.2" fill="#a9a9a9"/>
<line x1="227.21" y1="213" x2="227.21" y2="223.6" stroke="#a8a8a8" stroke-width="0.7"/>
<line x1="226.21" y1="213" x2="228.21" y2="213" stroke="#a8a8a8" stroke-width="0.7"/>
<rect x="224.95" y="223.6" width="4.52" height="54.2" fill="url(#hC)" stroke="#8a8a8a" stroke-width="0.4"/>
<line x1="237.11" y1="202.1" x2="237.11" y2="209.5" stroke="#a8a8a8" stroke-width="0.7"/>
<line x1="236.11" y1="202.1" x2="238.11" y2="202.1" stroke="#a8a8a8" stroke-width="0.7"/>
<rect x="235.15" y="209.7" width="3.92" height="68.1" fill="#fff" stroke="#b5b5b5" stroke-width="0.6"/>
<line x1="241.93" y1="215.4" x2="241.93" y2="222.2" stroke="#a8a8a8" stroke-width="0.7"/>
<line x1="240.93" y1="215.4" x2="242.93" y2="215.4" stroke="#a8a8a8" stroke-width="0.7"/>
<rect x="239.67" y="222.2" width="4.52" height="55.6" fill="url(#hA)" stroke="#8a8a8a" stroke-width="0.4"/>
<line x1="246.75" y1="230" x2="246.75" y2="233.9" stroke="#a8a8a8" stroke-width="0.7"/>
<line x1="245.75" y1="230" x2="247.75" y2="230" stroke="#a8a8a8" stroke-width="0.7"/>
<rect x="244.99" y="233.9" width="3.62" height="43.9" fill="#262626"/>
<line x1="251.57" y1="226.1" x2="251.57" y2="230.6" stroke="#a8a8a8" stroke-width="0.7"/>
<line x1="250.57" y1="226.1" x2="252.57" y2="226.1" stroke="#a8a8a8" stroke-width="0.7"/>
<rect x="249.31" y="230.6" width="4.52" height="47.2" fill="url(#hD)" stroke="#3a3a3a" stroke-width="0.4"/>
<line x1="256.39" y1="220.2" x2="256.39" y2="227.7" stroke="#a8a8a8" stroke-width="0.7"/>
<line x1="255.39" y1="220.2" x2="257.39" y2="220.2" stroke="#a8a8a8" stroke-width="0.7"/>
<rect x="254.63" y="227.7" width="3.62" height="50.1" fill="#a9a9a9"/>
<line x1="261.21" y1="222.2" x2="261.21" y2="228.6" stroke="#a8a8a8" stroke-width="0.7"/>
<line x1="260.21" y1="222.2" x2="262.21" y2="222.2" stroke="#a8a8a8" stroke-width="0.7"/>
<rect x="258.95" y="228.6" width="4.52" height="49.2" fill="url(#hC)" stroke="#8a8a8a" stroke-width="0.4"/>
<line x1="271.11" y1="245.4" x2="271.11" y2="248.3" stroke="#a8a8a8" stroke-width="0.7"/>
<line x1="270.11" y1="245.4" x2="272.11" y2="245.4" stroke="#a8a8a8" stroke-width="0.7"/>
<rect x="269.15" y="248.5" width="3.92" height="29.3" fill="#fff" stroke="#b5b5b5" stroke-width="0.6"/>
<line x1="275.93" y1="223.6" x2="275.93" y2="226.9" stroke="#a8a8a8" stroke-width="0.7"/>
<line x1="274.93" y1="223.6" x2="276.93" y2="223.6" stroke="#a8a8a8" stroke-width="0.7"/>
<rect x="273.67" y="226.9" width="4.52" height="50.9" fill="url(#hA)" stroke="#8a8a8a" stroke-width="0.4"/>
<line x1="280.75" y1="207.3" x2="280.75" y2="220" stroke="#a8a8a8" stroke-width="0.7"/>
<line x1="279.75" y1="207.3" x2="281.75" y2="207.3" stroke="#a8a8a8" stroke-width="0.7"/>
<rect x="278.99" y="220" width="3.62" height="57.8" fill="#262626"/>
<line x1="285.57" y1="219.1" x2="285.57" y2="227.3" stroke="#a8a8a8" stroke-width="0.7"/>
<line x1="284.57" y1="219.1" x2="286.57" y2="219.1" stroke="#a8a8a8" stroke-width="0.7"/>
<rect x="283.31" y="227.3" width="4.52" height="50.5" fill="url(#hD)" stroke="#3a3a3a" stroke-width="0.4"/>
<line x1="290.39" y1="233.2" x2="290.39" y2="241.9" stroke="#a8a8a8" stroke-width="0.7"/>
<line x1="289.39" y1="233.2" x2="291.39" y2="233.2" stroke="#a8a8a8" stroke-width="0.7"/>
<rect x="288.63" y="241.9" width="3.62" height="35.9" fill="#a9a9a9"/>
<line x1="295.21" y1="222.4" x2="295.21" y2="231.3" stroke="#a8a8a8" stroke-width="0.7"/>
<line x1="294.21" y1="222.4" x2="296.21" y2="222.4" stroke="#a8a8a8" stroke-width="0.7"/>
<rect x="292.95" y="231.3" width="4.52" height="46.5" fill="url(#hC)" stroke="#8a8a8a" stroke-width="0.4"/>
<line x1="305.11" y1="221" x2="305.11" y2="225.1" stroke="#a8a8a8" stroke-width="0.7"/>
<line x1="304.11" y1="221" x2="306.11" y2="221" stroke="#a8a8a8" stroke-width="0.7"/>
<rect x="303.15" y="225.3" width="3.92" height="52.5" fill="#fff" stroke="#b5b5b5" stroke-width="0.6"/>
<line x1="309.93" y1="220" x2="309.93" y2="224.5" stroke="#a8a8a8" stroke-width="0.7"/>
<line x1="308.93" y1="220" x2="310.93" y2="220" stroke="#a8a8a8" stroke-width="0.7"/>
<rect x="307.67" y="224.5" width="4.52" height="53.3" fill="url(#hA)" stroke="#8a8a8a" stroke-width="0.4"/>
<line x1="314.75" y1="227.6" x2="314.75" y2="231" stroke="#a8a8a8" stroke-width="0.7"/>
<line x1="313.75" y1="227.6" x2="315.75" y2="227.6" stroke="#a8a8a8" stroke-width="0.7"/>
<rect x="312.99" y="231" width="3.62" height="46.8" fill="#262626"/>
<line x1="319.57" y1="224" x2="319.57" y2="230.5" stroke="#a8a8a8" stroke-width="0.7"/>
<line x1="318.57" y1="224" x2="320.57" y2="224" stroke="#a8a8a8" stroke-width="0.7"/>
<rect x="317.31" y="230.5" width="4.52" height="47.3" fill="url(#hD)" stroke="#3a3a3a" stroke-width="0.4"/>
<line x1="324.39" y1="215.5" x2="324.39" y2="223.6" stroke="#a8a8a8" stroke-width="0.7"/>
<line x1="323.39" y1="215.5" x2="325.39" y2="215.5" stroke="#a8a8a8" stroke-width="0.7"/>
<rect x="322.63" y="223.6" width="3.62" height="54.2" fill="#a9a9a9"/>
<line x1="329.21" y1="218.2" x2="329.21" y2="222.7" stroke="#a8a8a8" stroke-width="0.7"/>
<line x1="328.21" y1="218.2" x2="330.21" y2="218.2" stroke="#a8a8a8" stroke-width="0.7"/>
<rect x="326.95" y="222.7" width="4.52" height="55.1" fill="url(#hC)" stroke="#8a8a8a" stroke-width="0.4"/>
<text x="215.16" y="287.6" font-size="4.95" text-anchor="middle" fill="#333" stroke="#333" stroke-width="0.08">Males</text>
<text x="249.16" y="287.6" font-size="4.95" text-anchor="middle" fill="#333" stroke="#333" stroke-width="0.08">Females</text>
<text x="283.16" y="287.6" font-size="4.95" text-anchor="middle" fill="#333" stroke="#333" stroke-width="0.08">Males</text>
<text x="317.16" y="287.6" font-size="4.95" text-anchor="middle" fill="#333" stroke="#333" stroke-width="0.08">Females</text>
<text x="194.2" y="295.2" font-size="4.6" text-anchor="middle" fill="#333" stroke="#333" stroke-width="0.08">2-w</text>
<text x="194.2" y="302.6" font-size="4.6" text-anchor="middle" fill="#333" stroke="#333" stroke-width="0.08">3-w</text>
<rect x="199.7" y="290.2" width="29.6" height="6.0" rx="0.6" fill="#fff" stroke="#8a8a8a" stroke-width="0.8"/>
<line x1="200" y1="296.4" x2="229" y2="296.4" stroke="#999" stroke-width="0.6"/>
<text x="214.5" y="294.8" font-size="5.6" text-anchor="middle" fill="#333" stroke="#333" stroke-width="0.05">-</text>
<rect x="235.2" y="290.2" width="27.6" height="6.0" rx="0.6" fill="#fff" stroke="#8a8a8a" stroke-width="0.8"/>
<line x1="235.5" y1="296.4" x2="262.5" y2="296.4" stroke="#999" stroke-width="0.6"/>
<text x="249" y="294.9" font-size="4.4" text-anchor="middle" fill="#222" stroke="#222" stroke-width="0.1">MD</text>
<rect x="269.5" y="290.2" width="26.2" height="6.0" rx="0.6" fill="#fff" stroke="#8a8a8a" stroke-width="0.8"/>
<line x1="269.8" y1="296.4" x2="295.4" y2="296.4" stroke="#999" stroke-width="0.6"/>
<text x="282.6" y="294.8" font-size="5.6" text-anchor="middle" fill="#333" stroke="#333" stroke-width="0.05">-</text>
<rect x="302.8" y="290.2" width="28.1" height="6.0" rx="0.6" fill="#fff" stroke="#8a8a8a" stroke-width="0.8"/>
<line x1="303.1" y1="296.4" x2="330.6" y2="296.4" stroke="#999" stroke-width="0.6"/>
<text x="316.85" y="294.8" font-size="5.6" text-anchor="middle" fill="#333" stroke="#333" stroke-width="0.05">-</text>
<rect x="199.7" y="297.9" width="63.1" height="6.0" rx="0.6" fill="#fff" stroke="#8a8a8a" stroke-width="0.8"/>
<line x1="200" y1="304.1" x2="262.5" y2="304.1" stroke="#999" stroke-width="0.6"/>
<text x="231.25" y="302.5" font-size="5.6" text-anchor="middle" fill="#333" stroke="#333" stroke-width="0.05">-</text>
<rect x="269.5" y="297.9" width="61.4" height="6.0" rx="0.6" fill="#fff" stroke="#8a8a8a" stroke-width="0.8"/>
<line x1="269.8" y1="304.1" x2="330.6" y2="304.1" stroke="#999" stroke-width="0.6"/>
<text x="300.2" y="302.5" font-size="5.6" text-anchor="middle" fill="#333" stroke="#333" stroke-width="0.05">-</text>
<text x="239.4" y="201.2" font-size="5" text-anchor="middle" fill="#333" stroke="#333" stroke-width="0.08">A</text>
<text x="249.1" y="225" font-size="5" text-anchor="middle" fill="#333" stroke="#333" stroke-width="0.08">B</text>
<text x="258.3" y="218.1" font-size="5" text-anchor="middle" fill="#333" stroke="#333" stroke-width="0.08">AB</text>
<text x="276" y="224.2" font-size="5.2" text-anchor="middle" fill="#1a1a1a" stroke="#1a1a1a" stroke-width="0.4">*</text>
<line x1="379.2" y1="188.2" x2="379.2" y2="278.2" stroke="#cfcfcf" stroke-width="2.4"/>
<line x1="377.2" y1="278.2" x2="511.1" y2="278.2" stroke="#9a9a9a" stroke-width="0.9"/>
<line x1="376.6" y1="278.2" x2="379.2" y2="278.2" stroke="#999" stroke-width="0.8"/>
<text x="375.4" y="279.8" font-size="4.6" text-anchor="end" fill="#2a2a2a" stroke="#2a2a2a" stroke-width="0.08">0</text>
<line x1="376.6" y1="248.2" x2="379.2" y2="248.2" stroke="#999" stroke-width="0.8"/>
<text x="375.4" y="249.8" font-size="4.6" text-anchor="end" fill="#2a2a2a" stroke="#2a2a2a" stroke-width="0.08">100</text>
<line x1="376.6" y1="218.2" x2="379.2" y2="218.2" stroke="#999" stroke-width="0.8"/>
<text x="375.4" y="219.8" font-size="4.6" text-anchor="end" fill="#2a2a2a" stroke="#2a2a2a" stroke-width="0.08">200</text>
<line x1="376.6" y1="188.2" x2="379.2" y2="188.2" stroke="#999" stroke-width="0.8"/>
<text x="375.4" y="189.8" font-size="4.6" text-anchor="end" fill="#2a2a2a" stroke="#2a2a2a" stroke-width="0.08">300</text>
<text x="0" y="0" font-size="4.6" text-anchor="middle" fill="#3a3a3a" stroke="#3a3a3a" stroke-width="0.02" textLength="43" lengthAdjust="spacingAndGlyphs" transform="translate(364.3,231.4) rotate(-90)">% vs CON-males</text>
<line x1="445.5" y1="186" x2="445.5" y2="278.2" stroke="#d4d4d4" stroke-width="0.8"/>
<line x1="445.5" y1="186" x2="445.5" y2="278.2" stroke="#5a5a5a" stroke-width="1" stroke-dasharray="1,1"/>
<text x="445" y="180.9" font-size="7.1" text-anchor="middle" font-weight="bold" fill="#1a1a1a" stroke="#1a1a1a" stroke-width="0.15" textLength="16.4" lengthAdjust="spacingAndGlyphs">Cd36</text>
<text x="411.5" y="187.1" font-size="4.95" text-anchor="middle" fill="#333" stroke="#333" stroke-width="0.08">Standard diet</text>
<text x="479.7" y="186.7" font-size="5" text-anchor="middle" fill="#333" stroke="#333" stroke-width="0.08">Western diet</text>
<line x1="382.01" y1="240.4" x2="382.01" y2="248.2" stroke="#a8a8a8" stroke-width="0.7"/>
<line x1="381.01" y1="240.4" x2="383.01" y2="240.4" stroke="#a8a8a8" stroke-width="0.7"/>
<rect x="380.05" y="248.4" width="3.92" height="29.8" fill="#fff" stroke="#b5b5b5" stroke-width="0.6"/>
<line x1="386.83" y1="244" x2="386.83" y2="249.1" stroke="#a8a8a8" stroke-width="0.7"/>
<line x1="385.83" y1="244" x2="387.83" y2="244" stroke="#a8a8a8" stroke-width="0.7"/>
<rect x="384.57" y="249.1" width="4.52" height="29.1" fill="url(#hA)" stroke="#8a8a8a" stroke-width="0.4"/>
<line x1="391.65" y1="235.5" x2="391.65" y2="242.4" stroke="#a8a8a8" stroke-width="0.7"/>
<line x1="390.65" y1="235.5" x2="392.65" y2="235.5" stroke="#a8a8a8" stroke-width="0.7"/>
<rect x="389.89" y="242.4" width="3.62" height="35.8" fill="#262626"/>
<line x1="396.47" y1="245" x2="396.47" y2="250.9" stroke="#a8a8a8" stroke-width="0.7"/>
<line x1="395.47" y1="245" x2="397.47" y2="245" stroke="#a8a8a8" stroke-width="0.7"/>
<rect x="394.21" y="250.9" width="4.52" height="27.3" fill="url(#hD)" stroke="#3a3a3a" stroke-width="0.4"/>
<line x1="401.29" y1="229" x2="401.29" y2="236" stroke="#a8a8a8" stroke-width="0.7"/>
<line x1="400.29" y1="229" x2="402.29" y2="229" stroke="#a8a8a8" stroke-width="0.7"/>
<rect x="399.53" y="236" width="3.62" height="42.2" fill="#a9a9a9"/>
<line x1="406.11" y1="230" x2="406.11" y2="237.8" stroke="#a8a8a8" stroke-width="0.7"/>
<line x1="405.11" y1="230" x2="407.11" y2="230" stroke="#a8a8a8" stroke-width="0.7"/>
<rect x="403.85" y="237.8" width="4.52" height="40.4" fill="url(#hC)" stroke="#8a8a8a" stroke-width="0.4"/>
<line x1="416.01" y1="242.7" x2="416.01" y2="244.5" stroke="#a8a8a8" stroke-width="0.7"/>
<line x1="415.01" y1="242.7" x2="417.01" y2="242.7" stroke="#a8a8a8" stroke-width="0.7"/>
<rect x="414.05" y="244.7" width="3.92" height="33.5" fill="#fff" stroke="#b5b5b5" stroke-width="0.6"/>
<line x1="420.83" y1="241.5" x2="420.83" y2="242.7" stroke="#a8a8a8" stroke-width="0.7"/>
<line x1="419.83" y1="241.5" x2="421.83" y2="241.5" stroke="#a8a8a8" stroke-width="0.7"/>
<rect x="418.57" y="242.7" width="4.52" height="35.5" fill="url(#hA)" stroke="#8a8a8a" stroke-width="0.4"/>
<line x1="425.65" y1="243.6" x2="425.65" y2="247.3" stroke="#a8a8a8" stroke-width="0.7"/>
<line x1="424.65" y1="243.6" x2="426.65" y2="243.6" stroke="#a8a8a8" stroke-width="0.7"/>
<rect x="423.89" y="247.3" width="3.62" height="30.9" fill="#262626"/>
<line x1="430.47" y1="243.6" x2="430.47" y2="245.8" stroke="#a8a8a8" stroke-width="0.7"/>
<line x1="429.47" y1="243.6" x2="431.47" y2="243.6" stroke="#a8a8a8" stroke-width="0.7"/>
<rect x="428.21" y="245.8" width="4.52" height="32.4" fill="url(#hD)" stroke="#3a3a3a" stroke-width="0.4"/>
<line x1="435.29" y1="238.5" x2="435.29" y2="241.8" stroke="#a8a8a8" stroke-width="0.7"/>
<line x1="434.29" y1="238.5" x2="436.29" y2="238.5" stroke="#a8a8a8" stroke-width="0.7"/>
<rect x="433.53" y="241.8" width="3.62" height="36.4" fill="#a9a9a9"/>
<line x1="440.11" y1="240.9" x2="440.11" y2="245.1" stroke="#a8a8a8" stroke-width="0.7"/>
<line x1="439.11" y1="240.9" x2="441.11" y2="240.9" stroke="#a8a8a8" stroke-width="0.7"/>
<rect x="437.85" y="245.1" width="4.52" height="33.1" fill="url(#hC)" stroke="#8a8a8a" stroke-width="0.4"/>
<line x1="450.01" y1="231.9" x2="450.01" y2="243.2" stroke="#a8a8a8" stroke-width="0.7"/>
<line x1="449.01" y1="231.9" x2="451.01" y2="231.9" stroke="#a8a8a8" stroke-width="0.7"/>
<rect x="448.05" y="243.4" width="3.92" height="34.8" fill="#fff" stroke="#b5b5b5" stroke-width="0.6"/>
<line x1="454.83" y1="213.6" x2="454.83" y2="226.4" stroke="#a8a8a8" stroke-width="0.7"/>
<line x1="453.83" y1="213.6" x2="455.83" y2="213.6" stroke="#a8a8a8" stroke-width="0.7"/>
<rect x="452.57" y="226.4" width="4.52" height="51.8" fill="url(#hA)" stroke="#8a8a8a" stroke-width="0.4"/>
<line x1="459.65" y1="198.2" x2="459.65" y2="213.6" stroke="#a8a8a8" stroke-width="0.7"/>
<line x1="458.65" y1="198.2" x2="460.65" y2="198.2" stroke="#a8a8a8" stroke-width="0.7"/>
<rect x="457.89" y="213.6" width="3.62" height="64.6" fill="#262626"/>
<line x1="464.47" y1="225.1" x2="464.47" y2="235.4" stroke="#a8a8a8" stroke-width="0.7"/>
<line x1="463.47" y1="225.1" x2="465.47" y2="225.1" stroke="#a8a8a8" stroke-width="0.7"/>
<rect x="462.21" y="235.4" width="4.52" height="42.8" fill="url(#hD)" stroke="#3a3a3a" stroke-width="0.4"/>
<line x1="469.29" y1="234" x2="469.29" y2="243.2" stroke="#a8a8a8" stroke-width="0.7"/>
<line x1="468.29" y1="234" x2="470.29" y2="234" stroke="#a8a8a8" stroke-width="0.7"/>
<rect x="467.53" y="243.2" width="3.62" height="35" fill="#a9a9a9"/>
<line x1="474.11" y1="199.1" x2="474.11" y2="215.8" stroke="#a8a8a8" stroke-width="0.7"/>
<line x1="473.11" y1="199.1" x2="475.11" y2="199.1" stroke="#a8a8a8" stroke-width="0.7"/>
<rect x="471.85" y="215.8" width="4.52" height="62.4" fill="url(#hC)" stroke="#8a8a8a" stroke-width="0.4"/>
<line x1="484.01" y1="242.3" x2="484.01" y2="245" stroke="#a8a8a8" stroke-width="0.7"/>
<line x1="483.01" y1="242.3" x2="485.01" y2="242.3" stroke="#a8a8a8" stroke-width="0.7"/>
<rect x="482.05" y="245.2" width="3.92" height="33" fill="#fff" stroke="#b5b5b5" stroke-width="0.6"/>
<line x1="488.83" y1="240.5" x2="488.83" y2="242.8" stroke="#a8a8a8" stroke-width="0.7"/>
<line x1="487.83" y1="240.5" x2="489.83" y2="240.5" stroke="#a8a8a8" stroke-width="0.7"/>
<rect x="486.57" y="242.8" width="4.52" height="35.4" fill="url(#hA)" stroke="#8a8a8a" stroke-width="0.4"/>
<line x1="493.65" y1="238.3" x2="493.65" y2="241" stroke="#a8a8a8" stroke-width="0.7"/>
<line x1="492.65" y1="238.3" x2="494.65" y2="238.3" stroke="#a8a8a8" stroke-width="0.7"/>
<rect x="491.89" y="241" width="3.62" height="37.2" fill="#262626"/>
<line x1="498.47" y1="233.7" x2="498.47" y2="238.1" stroke="#a8a8a8" stroke-width="0.7"/>
<line x1="497.47" y1="233.7" x2="499.47" y2="233.7" stroke="#a8a8a8" stroke-width="0.7"/>
<rect x="496.21" y="238.1" width="4.52" height="40.1" fill="url(#hD)" stroke="#3a3a3a" stroke-width="0.4"/>
<line x1="503.29" y1="233.2" x2="503.29" y2="236.3" stroke="#a8a8a8" stroke-width="0.7"/>
<line x1="502.29" y1="233.2" x2="504.29" y2="233.2" stroke="#a8a8a8" stroke-width="0.7"/>
<rect x="501.53" y="236.3" width="3.62" height="41.9" fill="#a9a9a9"/>
<line x1="508.11" y1="238.1" x2="508.11" y2="240.5" stroke="#a8a8a8" stroke-width="0.7"/>
<line x1="507.11" y1="238.1" x2="509.11" y2="238.1" stroke="#a8a8a8" stroke-width="0.7"/>
<rect x="505.85" y="240.5" width="4.52" height="37.7" fill="url(#hC)" stroke="#8a8a8a" stroke-width="0.4"/>
<text x="394.06" y="287.6" font-size="4.95" text-anchor="middle" fill="#333" stroke="#333" stroke-width="0.08">Males</text>
<text x="428.06" y="287.6" font-size="4.95" text-anchor="middle" fill="#333" stroke="#333" stroke-width="0.08">Females</text>
<text x="462.06" y="287.6" font-size="4.95" text-anchor="middle" fill="#333" stroke="#333" stroke-width="0.08">Males</text>
<text x="496.06" y="287.6" font-size="4.95" text-anchor="middle" fill="#333" stroke="#333" stroke-width="0.08">Females</text>
<text x="375.6" y="295.2" font-size="4.6" text-anchor="middle" fill="#333" stroke="#333" stroke-width="0.08">2-w</text>
<text x="375.6" y="302.6" font-size="4.6" text-anchor="middle" fill="#333" stroke="#333" stroke-width="0.08">3-w</text>
<rect x="381.1" y="290.2" width="29.6" height="6.0" rx="0.6" fill="#fff" stroke="#8a8a8a" stroke-width="0.8"/>
<line x1="381.4" y1="296.4" x2="410.4" y2="296.4" stroke="#999" stroke-width="0.6"/>
<text x="395.9" y="294.8" font-size="5.6" text-anchor="middle" fill="#333" stroke="#333" stroke-width="0.05">-</text>
<rect x="416.2" y="290.2" width="27.3" height="6.0" rx="0.6" fill="#fff" stroke="#8a8a8a" stroke-width="0.8"/>
<line x1="416.5" y1="296.4" x2="443.2" y2="296.4" stroke="#999" stroke-width="0.6"/>
<text x="429.85" y="294.8" font-size="5.6" text-anchor="middle" fill="#333" stroke="#333" stroke-width="0.05">-</text>
<rect x="450.6" y="290.2" width="27" height="6.0" rx="0.6" fill="#fff" stroke="#8a8a8a" stroke-width="0.8"/>
<line x1="450.9" y1="296.4" x2="477.3" y2="296.4" stroke="#999" stroke-width="0.6"/>
<text x="464.1" y="294.8" font-size="5.6" text-anchor="middle" fill="#333" stroke="#333" stroke-width="0.05">-</text>
<rect x="484.5" y="290.2" width="27.8" height="6.0" rx="0.6" fill="#fff" stroke="#8a8a8a" stroke-width="0.8"/>
<line x1="484.8" y1="296.4" x2="512" y2="296.4" stroke="#999" stroke-width="0.6"/>
<text x="498.4" y="294.8" font-size="5.6" text-anchor="middle" fill="#333" stroke="#333" stroke-width="0.05">-</text>
<rect x="381.1" y="297.9" width="62.4" height="6.0" rx="0.6" fill="#fff" stroke="#8a8a8a" stroke-width="0.8"/>
<line x1="381.4" y1="304.1" x2="443.2" y2="304.1" stroke="#999" stroke-width="0.6"/>
<text x="412.3" y="302.5" font-size="5.6" text-anchor="middle" fill="#333" stroke="#333" stroke-width="0.05">-</text>
<rect x="450.6" y="297.9" width="61.7" height="6.0" rx="0.6" fill="#fff" stroke="#8a8a8a" stroke-width="0.8"/>
<line x1="450.9" y1="304.1" x2="512" y2="304.1" stroke="#999" stroke-width="0.6"/>
<text x="481.45" y="302.6" font-size="4.4" text-anchor="middle" fill="#222" stroke="#222" stroke-width="0.1">S</text>
<text x="172.3" y="8.7" font-size="6.6" text-anchor="middle" fill="#1a1a1a" stroke="#1a1a1a" stroke-width="0.1" textLength="53.5" lengthAdjust="spacingAndGlyphs">LEPTIN SIGNALING</text>
<text x="444.8" y="8.7" font-size="6.6" text-anchor="middle" fill="#1a1a1a" stroke="#1a1a1a" stroke-width="0.1" textLength="57.6" lengthAdjust="spacingAndGlyphs">INSULIN SIGNALING</text>
<text x="88.5" y="168.15" font-size="6.6" text-anchor="middle" fill="#1a1a1a" stroke="#1a1a1a" stroke-width="0.1" textLength="36.9" lengthAdjust="spacingAndGlyphs">LIPOGENESIS</text>
<text x="265.5" y="168.15" font-size="6.6" text-anchor="middle" fill="#1a1a1a" stroke="#1a1a1a" stroke-width="0.1" textLength="27" lengthAdjust="spacingAndGlyphs">LIPOLYSIS</text>
<text x="445.1" y="168.15" font-size="6.6" text-anchor="middle" fill="#1a1a1a" stroke="#1a1a1a" stroke-width="0.1" textLength="56.9" lengthAdjust="spacingAndGlyphs">FATTY ACID UPTAKE</text>
<text x="537.7" y="4.3" font-size="3" text-anchor="middle" fill="#666">W</text>
<text x="544.9" y="4.3" font-size="3" text-anchor="middle" fill="#666">L</text>
<text x="534.4" y="9.9" font-size="3.4" text-anchor="end" fill="#555" stroke="#555" stroke-width="0.05" textLength="10.7" lengthAdjust="spacingAndGlyphs">O-CON</text>
<rect x="535.3" y="5.6" width="5.0" height="5.6" fill="#fff" stroke="#888" stroke-width="0.6"/>
<rect x="542.0" y="5.6" width="5.8" height="5.6" fill="url(#hA)" stroke="#777" stroke-width="0.5"/>
<text x="534.4" y="17.2" font-size="3.4" text-anchor="end" fill="#555" stroke="#555" stroke-width="0.05" textLength="8.8" lengthAdjust="spacingAndGlyphs">O-WD</text>
<rect x="535.3" y="12.9" width="5.0" height="5.6" fill="#4a4a4a" stroke="#888" stroke-width="0.6"/>
<rect x="542.0" y="12.9" width="5.8" height="5.6" fill="url(#hD)" stroke="#777" stroke-width="0.5"/>
<text x="534.4" y="23.6" font-size="3.4" text-anchor="end" fill="#555" stroke="#555" stroke-width="0.05" textLength="10.7" lengthAdjust="spacingAndGlyphs">O-REV</text>
<rect x="535.3" y="19.3" width="5.0" height="5.6" fill="#a9a9a9" stroke="#888" stroke-width="0.6"/>
<rect x="542.0" y="19.3" width="5.8" height="5.6" fill="url(#hC)" stroke="#777" stroke-width="0.5"/>
</g>
</svg>
</body></html>
